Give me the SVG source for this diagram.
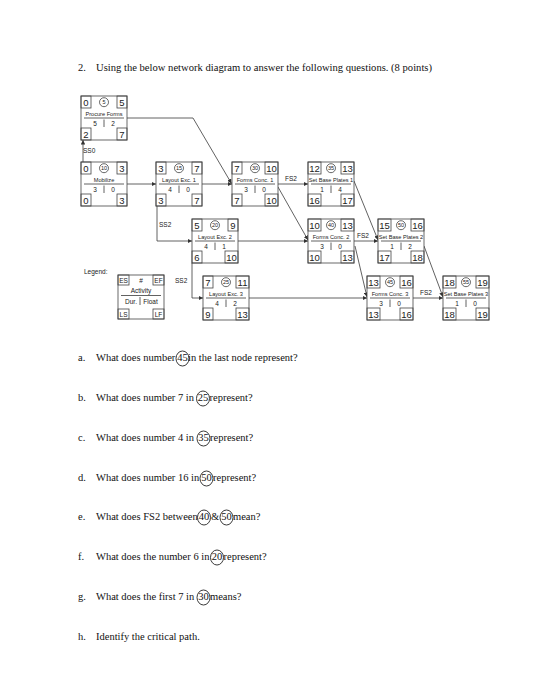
<svg xmlns="http://www.w3.org/2000/svg" width="543" height="700" viewBox="0 0 543 700">
<defs>
<style>
.nb{fill:#fff;stroke:#444;stroke-width:0.8}
.bx{fill:none;stroke:#444;stroke-width:0.8}
.ln{fill:none;stroke:#3a3a3a;stroke-width:0.8}
.num{font-family:"Liberation Sans",Arial,sans-serif;font-size:9.5px;fill:#222}
.cn{font-family:"Liberation Sans",Arial,sans-serif;font-size:5.5px;fill:#222;text-anchor:middle}
.act{font-family:"Liberation Sans",Arial,sans-serif;font-size:5.6px;fill:#222;text-anchor:middle}
.df{font-family:"Liberation Sans",Arial,sans-serif;font-size:6.5px;fill:#222;text-anchor:middle}
.lbl{font-family:"Liberation Sans",Arial,sans-serif;font-size:6.5px;fill:#222}
.q{font-family:"Liberation Serif","Times New Roman",serif;font-size:10.5px;fill:#111}
.qc{fill:none;stroke:#222;stroke-width:0.9}
.mid{text-anchor:middle}
</style>
<marker id="ah" viewBox="0 0 6 6" refX="6" refY="3" markerWidth="4.5" markerHeight="4.5" orient="auto" markerUnits="userSpaceOnUse"><path d="M0,0 L6,3 L0,6 z" fill="#333"/></marker>
</defs>
<rect width="543" height="700" fill="#fff"/>

<text class="q" x="78" y="71">2.</text>
<text class="q" x="96" y="71" textLength="336" lengthAdjust="spacingAndGlyphs">Using the below network diagram to answer the following questions. (8 points)</text>

<!-- connectors -->
<g id="connectors">
<polyline class="ln" points="127,118 193,118 231.5,183.5" marker-end="url(#ah)"/>
<line class="ln" x1="83" y1="162" x2="83" y2="140" marker-end="url(#ah)"/>
<text class="lbl" x="83" y="153">SS0</text>
<line class="ln" x1="127" y1="184" x2="156" y2="184" marker-end="url(#ah)"/>
<line class="ln" x1="202" y1="184" x2="232" y2="184" marker-end="url(#ah)"/>
<line class="ln" x1="278" y1="184" x2="308" y2="184" marker-end="url(#ah)"/>
<text class="lbl" x="285" y="181">FS2</text>
<line class="ln" x1="278" y1="187" x2="308" y2="240" marker-end="url(#ah)"/>
<line class="ln" x1="354" y1="181" x2="378" y2="240" marker-end="url(#ah)"/>
<polyline class="ln" points="157,206 157,241 192,241" marker-end="url(#ah)"/>
<text class="lbl" x="159" y="227">SS2</text>
<line class="ln" x1="238" y1="241" x2="308" y2="241" marker-end="url(#ah)"/>
<line class="ln" x1="354" y1="241" x2="378" y2="241" marker-end="url(#ah)"/>
<text class="lbl" x="357" y="238">FS2</text>
<polyline class="ln" points="192,263 192,298 203,298" marker-end="url(#ah)"/>
<text class="lbl" x="175" y="283">SS2</text>
<line class="ln" x1="248" y1="298" x2="367" y2="298" marker-end="url(#ah)"/>
<line class="ln" x1="355" y1="246" x2="367" y2="297" marker-end="url(#ah)"/>
<line class="ln" x1="413" y1="298" x2="443" y2="298" marker-end="url(#ah)"/>
<text class="lbl" x="420" y="295">FS2</text>
<line class="ln" x1="424" y1="246" x2="443" y2="297" marker-end="url(#ah)"/>
</g>

<!-- node 5 -->
<g id="n5" transform="translate(81,96)">
<rect class="nb" width="46" height="44"/>
<rect class="bx" width="10" height="12"/><text class="num mid" x="5" y="9.8">0</text>
<circle class="bx" cx="23" cy="6.2" r="4.5"/><text class="cn" x="23" y="8.2">5</text>
<rect class="bx" x="36" width="10" height="12"/><text class="num mid" x="41" y="9.8">5</text>
<text class="act" x="23" y="19.5">Procure Forms</text>
<line class="ln" x1="3" y1="22" x2="43" y2="22"/>
<text class="df" x="14" y="29.5">5</text><line class="ln" x1="23" y1="23.5" x2="23" y2="31"/><text class="df" x="32" y="29.5">2</text>
<rect class="bx" y="32" width="10" height="12"/><text class="num mid" x="5" y="41.8">2</text>
<rect class="bx" x="36" y="32" width="10" height="12"/><text class="num mid" x="41" y="41.8">7</text>
</g>

<!-- node 10 -->
<g id="n10" transform="translate(81,162)">
<rect class="nb" width="46" height="44"/>
<rect class="bx" width="10" height="12"/><text class="num mid" x="5" y="9.8">0</text>
<circle class="bx" cx="23" cy="6.2" r="4.5"/><text class="cn" x="23" y="8.2">10</text>
<rect class="bx" x="36" width="10" height="12"/><text class="num mid" x="41" y="9.8">3</text>
<text class="act" x="23" y="19.5">Mobilize</text>
<line class="ln" x1="3" y1="22" x2="43" y2="22"/>
<text class="df" x="14" y="29.5">3</text><line class="ln" x1="23" y1="23.5" x2="23" y2="31"/><text class="df" x="32" y="29.5">0</text>
<rect class="bx" y="32" width="10" height="12"/><text class="num mid" x="5" y="41.8">0</text>
<rect class="bx" x="36" y="32" width="10" height="12"/><text class="num mid" x="41" y="41.8">3</text>
</g>

<!-- node 15 -->
<g id="n15" transform="translate(156,162)">
<rect class="nb" width="46" height="44"/>
<rect class="bx" width="10" height="12"/><text class="num mid" x="5" y="9.8">3</text>
<circle class="bx" cx="23" cy="6.2" r="4.5"/><text class="cn" x="23" y="8.2">15</text>
<rect class="bx" x="36" width="10" height="12"/><text class="num mid" x="41" y="9.8">7</text>
<text class="act" x="23" y="19.5">Layout Exc. 1</text>
<line class="ln" x1="3" y1="22" x2="43" y2="22"/>
<text class="df" x="14" y="29.5">4</text><line class="ln" x1="23" y1="23.5" x2="23" y2="31"/><text class="df" x="32" y="29.5">0</text>
<rect class="bx" y="32" width="10" height="12"/><text class="num mid" x="5" y="41.8">3</text>
<rect class="bx" x="36" y="32" width="10" height="12"/><text class="num mid" x="41" y="41.8">7</text>
</g>

<!-- node 30 -->
<g id="n30" transform="translate(232,162)">
<rect class="nb" width="46" height="44"/>
<rect class="bx" width="10" height="12"/><text class="num mid" x="5" y="9.8">7</text>
<circle class="bx" cx="23" cy="6.2" r="4.5"/><text class="cn" x="23" y="8.2">30</text>
<rect class="bx" x="33" width="13" height="12"/><text class="num mid" x="39.5" y="9.8">10</text>
<text class="act" x="23" y="19.5">Forms Conc. 1</text>
<line class="ln" x1="3" y1="22" x2="43" y2="22"/>
<text class="df" x="14" y="29.5">3</text><line class="ln" x1="23" y1="23.5" x2="23" y2="31"/><text class="df" x="32" y="29.5">0</text>
<rect class="bx" y="32" width="10" height="12"/><text class="num mid" x="5" y="41.8">7</text>
<rect class="bx" x="33" y="32" width="13" height="12"/><text class="num mid" x="39.5" y="41.8">10</text>
</g>

<!-- node 35 -->
<g id="n35" transform="translate(308,162)">
<rect class="nb" width="46" height="44"/>
<rect class="bx" width="13" height="12"/><text class="num mid" x="6.5" y="9.8">12</text>
<circle class="bx" cx="23" cy="6.2" r="4.5"/><text class="cn" x="23" y="8.2">35</text>
<rect class="bx" x="33" width="13" height="12"/><text class="num mid" x="39.5" y="9.8">13</text>
<text class="act" x="23" y="19.5">Set Base Plates 1</text>
<line class="ln" x1="3" y1="22" x2="43" y2="22"/>
<text class="df" x="14" y="29.5">1</text><line class="ln" x1="23" y1="23.5" x2="23" y2="31"/><text class="df" x="32" y="29.5">4</text>
<rect class="bx" y="32" width="13" height="12"/><text class="num mid" x="6.5" y="41.8">16</text>
<rect class="bx" x="33" y="32" width="13" height="12"/><text class="num mid" x="39.5" y="41.8">17</text>
</g>

<!-- node 20 -->
<g id="n20" transform="translate(192,219)">
<rect class="nb" width="46" height="44"/>
<rect class="bx" width="10" height="12"/><text class="num mid" x="5" y="9.8">5</text>
<circle class="bx" cx="23" cy="6.2" r="4.5"/><text class="cn" x="23" y="8.2">20</text>
<rect class="bx" x="36" width="10" height="12"/><text class="num mid" x="41" y="9.8">9</text>
<text class="act" x="23" y="19.5">Layout Exc. 2</text>
<line class="ln" x1="3" y1="22" x2="43" y2="22"/>
<text class="df" x="14" y="29.5">4</text><line class="ln" x1="23" y1="23.5" x2="23" y2="31"/><text class="df" x="32" y="29.5">1</text>
<rect class="bx" y="32" width="10" height="12"/><text class="num mid" x="5" y="41.8">6</text>
<rect class="bx" x="33" y="32" width="13" height="12"/><text class="num mid" x="39.5" y="41.8">10</text>
</g>

<!-- node 40 -->
<g id="n40" transform="translate(308,219)">
<rect class="nb" width="46" height="44"/>
<rect class="bx" width="13" height="12"/><text class="num mid" x="6.5" y="9.8">10</text>
<circle class="bx" cx="23" cy="6.2" r="4.5"/><text class="cn" x="23" y="8.2">40</text>
<rect class="bx" x="33" width="13" height="12"/><text class="num mid" x="39.5" y="9.8">13</text>
<text class="act" x="23" y="19.5">Forms Conc. 2</text>
<line class="ln" x1="3" y1="22" x2="43" y2="22"/>
<text class="df" x="14" y="29.5">3</text><line class="ln" x1="23" y1="23.5" x2="23" y2="31"/><text class="df" x="32" y="29.5">0</text>
<rect class="bx" y="32" width="13" height="12"/><text class="num mid" x="6.5" y="41.8">10</text>
<rect class="bx" x="33" y="32" width="13" height="12"/><text class="num mid" x="39.5" y="41.8">13</text>
</g>

<!-- node 50 -->
<g id="n50" transform="translate(378,219)">
<rect class="nb" width="46" height="44"/>
<rect class="bx" width="13" height="12"/><text class="num mid" x="6.5" y="9.8">15</text>
<circle class="bx" cx="23" cy="6.2" r="4.5"/><text class="cn" x="23" y="8.2">50</text>
<rect class="bx" x="33" width="13" height="12"/><text class="num mid" x="39.5" y="9.8">16</text>
<text class="act" x="23" y="19.5">Set Base Plates 2</text>
<line class="ln" x1="3" y1="22" x2="43" y2="22"/>
<text class="df" x="14" y="29.5">1</text><line class="ln" x1="23" y1="23.5" x2="23" y2="31"/><text class="df" x="32" y="29.5">2</text>
<rect class="bx" y="32" width="13" height="12"/><text class="num mid" x="6.5" y="41.8">17</text>
<rect class="bx" x="33" y="32" width="13" height="12"/><text class="num mid" x="39.5" y="41.8">18</text>
</g>

<!-- node 25 -->
<g id="n25" transform="translate(203,276)">
<rect class="nb" width="46" height="44"/>
<rect class="bx" width="10" height="12"/><text class="num mid" x="5" y="9.8">7</text>
<circle class="bx" cx="23" cy="6.2" r="4.5"/><text class="cn" x="23" y="8.2">25</text>
<rect class="bx" x="33" width="13" height="12"/><text class="num mid" x="39.5" y="9.8">11</text>
<text class="act" x="23" y="19.5">Layout Exc. 3</text>
<line class="ln" x1="3" y1="22" x2="43" y2="22"/>
<text class="df" x="14" y="29.5">4</text><line class="ln" x1="23" y1="23.5" x2="23" y2="31"/><text class="df" x="32" y="29.5">2</text>
<rect class="bx" y="32" width="10" height="12"/><text class="num mid" x="5" y="41.8">9</text>
<rect class="bx" x="33" y="32" width="13" height="12"/><text class="num mid" x="39.5" y="41.8">13</text>
</g>

<!-- node 45 -->
<g id="n45" transform="translate(367,276)">
<rect class="nb" width="46" height="44"/>
<rect class="bx" width="13" height="12"/><text class="num mid" x="6.5" y="9.8">13</text>
<circle class="bx" cx="23" cy="6.2" r="4.5"/><text class="cn" x="23" y="8.2">45</text>
<rect class="bx" x="33" width="13" height="12"/><text class="num mid" x="39.5" y="9.8">16</text>
<text class="act" x="23" y="19.5">Forms Conc. 3</text>
<line class="ln" x1="3" y1="22" x2="43" y2="22"/>
<text class="df" x="14" y="29.5">3</text><line class="ln" x1="23" y1="23.5" x2="23" y2="31"/><text class="df" x="32" y="29.5">0</text>
<rect class="bx" y="32" width="13" height="12"/><text class="num mid" x="6.5" y="41.8">13</text>
<rect class="bx" x="33" y="32" width="13" height="12"/><text class="num mid" x="39.5" y="41.8">16</text>
</g>

<!-- node 55 -->
<g id="n55" transform="translate(443,276)">
<rect class="nb" width="46" height="44"/>
<rect class="bx" width="13" height="12"/><text class="num mid" x="6.5" y="9.8">18</text>
<circle class="bx" cx="23" cy="6.2" r="4.5"/><text class="cn" x="23" y="8.2">55</text>
<rect class="bx" x="33" width="13" height="12"/><text class="num mid" x="39.5" y="9.8">19</text>
<text class="act" x="23" y="19.5">Set Base Plates 3</text>
<line class="ln" x1="3" y1="22" x2="43" y2="22"/>
<text class="df" x="14" y="29.5">1</text><line class="ln" x1="23" y1="23.5" x2="23" y2="31"/><text class="df" x="32" y="29.5">0</text>
<rect class="bx" y="32" width="13" height="12"/><text class="num mid" x="6.5" y="41.8">18</text>
<rect class="bx" x="33" y="32" width="13" height="12"/><text class="num mid" x="39.5" y="41.8">19</text>
</g>

<!-- legend -->
<g id="legend">
<text class="lbl" x="84" y="274" font-size="7px">Legend:</text>
<g transform="translate(118,275)">
<rect class="nb" width="46" height="44"/>
<rect class="bx" width="11" height="10"/><text class="df" x="5.5" y="7.8">ES</text>
<text class="df" x="23" y="8">#</text>
<rect class="bx" x="35" width="11" height="10"/><text class="df" x="40.5" y="7.8">EF</text>
<text class="df" x="23" y="18" font-size="7px">Activity</text>
<line class="ln" x1="3" y1="20.5" x2="43" y2="20.5"/>
<text class="df" x="13" y="28.5">Dur.</text><line class="ln" x1="22" y1="22" x2="22" y2="30"/><text class="df" x="32.5" y="28.5">Float</text>
<rect class="bx" y="34" width="11" height="10"/><text class="df" x="5.5" y="41.8">LS</text>
<rect class="bx" x="35" y="34" width="11" height="10"/><text class="df" x="40.5" y="41.8">LF</text>
</g>
</g>

<!-- questions -->
<g id="questions">
<text class="q" x="78" y="361">a.</text>
<text class="q" x="96" y="361">What does number</text>
<ellipse class="qc" cx="182.5" cy="358.5" rx="6.5" ry="7.5"/><text class="q mid" x="182.5" y="361">45</text>
<text class="q" x="188" y="361">in the last node represent?</text>

<text class="q" x="78" y="401">b.</text>
<text class="q" x="96" y="401">What does number 7 in</text>
<ellipse class="qc" cx="203" cy="398.5" rx="6.5" ry="7.5"/><text class="q mid" x="203" y="401">25</text>
<text class="q" x="209.5" y="401">represent?</text>

<text class="q" x="78" y="441">c.</text>
<text class="q" x="96" y="441">What does number 4 in</text>
<ellipse class="qc" cx="203.5" cy="438.5" rx="6.5" ry="7.5"/><text class="q mid" x="203.5" y="441">35</text>
<text class="q" x="210" y="441">represent?</text>

<text class="q" x="78" y="481">d.</text>
<text class="q" x="96" y="481">What does number 16 in</text>
<ellipse class="qc" cx="206.5" cy="478.5" rx="6.5" ry="7.5"/><text class="q mid" x="206.5" y="481">50</text>
<text class="q" x="213" y="481">represent?</text>

<text class="q" x="78" y="520">e.</text>
<text class="q" x="96" y="520">What does FS2 between</text>
<ellipse class="qc" cx="204" cy="517.5" rx="6.5" ry="7.5"/><text class="q mid" x="204" y="520">40</text>
<text class="q" x="211" y="520">&amp;</text>
<ellipse class="qc" cx="226.5" cy="517.5" rx="6.5" ry="7.5"/><text class="q mid" x="226.5" y="520">50</text>
<text class="q" x="233" y="520">mean?</text>

<text class="q" x="78" y="560">f.</text>
<text class="q" x="96" y="560">What does the number 6 in</text>
<ellipse class="qc" cx="217" cy="557.5" rx="6.5" ry="7.5"/><text class="q mid" x="217" y="560">20</text>
<text class="q" x="223.5" y="560">represent?</text>

<text class="q" x="78" y="600">g.</text>
<text class="q" x="96" y="600">What does the first 7 in</text>
<ellipse class="qc" cx="203.5" cy="597.5" rx="6.5" ry="7.5"/><text class="q mid" x="203.5" y="600">30</text>
<text class="q" x="210" y="600">means?</text>

<text class="q" x="78" y="640">h.</text>
<text class="q" x="96" y="640">Identify the critical path.</text>
</g>
</svg>
